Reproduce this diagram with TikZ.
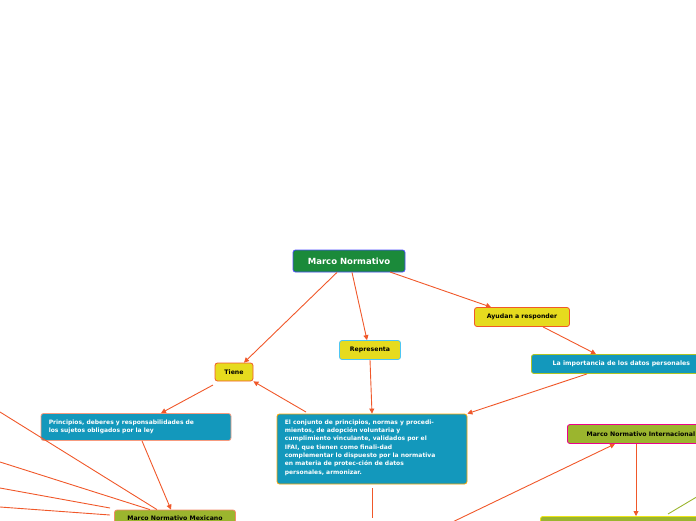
\documentclass[tikz,border=0pt]{standalone}
\usepackage{fontspec}
\setmainfont{DejaVu Sans}
\usetikzlibrary{arrows.meta}
\definecolor{dkgreen}{HTML}{1B8A3A}
\definecolor{ylw}{HTML}{E6DB1E}
\definecolor{blu}{HTML}{1398BC}
\definecolor{olive}{HTML}{9BB52E}
\definecolor{org}{HTML}{F0582A}
\begin{document}
\begin{tikzpicture}[x=1pt,y=-1pt,
  box/.style={rounded corners=2.5pt,line width=0.8pt,inner sep=0pt,font=\bfseries\fontsize{6.2}{7.4}\selectfont},
  ybox/.style={box,fill=ylw,text=black},
  bbox/.style={box,fill=blu,text=white},
  obox/.style={box,fill=olive,text=black},
  con/.style={org,line width=0.9pt,-{Triangle[length=5pt,width=5pt]}},
  plain/.style={org,line width=0.9pt}]
\useasboundingbox (0,0) rectangle (696,520);
\clip (0,0) rectangle (696,520);
\node[box,fill=dkgreen,text=white,draw=blue!70,minimum width=112pt,minimum height=22pt,font=\bfseries\fontsize{8.5}{9}\selectfont] (mn) at (349,261) {Marco Normativo};
\node[ybox,draw=org,minimum width=38pt,minimum height=18pt] (tiene) at (234,372) {Tiene};
\node[ybox,draw=cyan!70,minimum width=61pt,minimum height=19pt] (rep) at (370,350) {Representa};
\node[ybox,draw=org,minimum width=95pt,minimum height=19pt] (ayu) at (522,317) {Ayudan a responder};
\node[bbox,draw=olive!80!yellow,minimum width=172pt,minimum height=19pt,anchor=west] (imp) at (531,364) {\hspace{8pt}La importancia de los datos personales\hfill};
\node[bbox,draw=orange!70!yellow,minimum width=190pt,minimum height=70pt] (big) at (372,449) {};
\node[anchor=north west,inner sep=0pt,align=left,text=white,font=\bfseries\fontsize{6}{8.3}\selectfont] (bigt) at ([xshift=8pt,yshift=-6pt]big.north west) {El conjunto de principios, normas y procedi-\\mientos, de adopción voluntaria y\\cumplimiento vinculante, validados por el\\IFAI, que tienen como finali-dad\\complementar lo dispuesto por la normativa\\en materia de protec-ción de datos\\personales, armonizar.};
\node[bbox,draw=org!60,minimum width=190pt,minimum height=27pt] (pri) at (136,427) {};
\node[anchor=west,inner sep=0pt,align=left,text=white,font=\bfseries\fontsize{6}{7.4}\selectfont] (prit) at ([xshift=8pt]pri.west) {Principios, deberes y responsabilidades de\\los sujetos obligados por la ley};
\node[obox,draw=org!70,minimum width=121pt,minimum height=20pt] (mex) at (175,520) {};
\node[anchor=north,inner sep=0pt,font=\bfseries\fontsize{6.2}{7}\selectfont] (mext) at (175,515.5) {Marco Normativo Mexicano};
\node[obox,draw=magenta,minimum width=140pt,minimum height=19pt,anchor=west] (int) at (567,434) {\hspace{7pt}Marco Normativo Internacional\hfill};
\node[obox,draw=yellow!80!olive,minimum width=170pt,minimum height=20pt,anchor=north west] (gb) at (540,516) {};
\coordinate (c1) at (0,412); \coordinate (c2) at (0,462);
\coordinate (c3) at (0,488); \coordinate (c4) at (0,507);
\coordinate (c5) at (440,528); \coordinate (c6) at (710,489);
\draw[con] (mn.south -| 337,0) -- (tiene.north -| 244,0);
\draw[con] (mn.south -| 352,0) -- (rep.north -| 367,0);
\draw[con] (390,272) -- (ayu.north -| 491,0);
\draw[con] (ayu.south -| 543,0) -- (imp.north -| 596,0);
\draw[con] (imp.south -| 587,0) -- (big.north east);
\draw[con] (306,412) -- (tiene.south east);
\draw[con] (rep.south) -- (big.north);
\draw[con] (213,385) -- (pri.north -| 161,0);
\draw[con] (pri.south -| 142,0) -- (mex.north -| 171,0);
\draw[plain] (big.south) ++(0,4) -- ++(0,30);
\draw[con] (c5) -- (int.south -| 615,0);
\draw[con] (int.south -| 636,0) -- (gb.north -| 636,0);
\draw[olive,line width=0.9pt] (668,514) -- (c6);
\draw[plain] (c1) -- (mex.north -| 157,0);
\draw[plain] (c2) -- (mex.north -| 150,0);
\draw[plain] (c3) -- (110,508);
\draw[plain] (c4) -- (110,515);
\end{tikzpicture}
\end{document}
